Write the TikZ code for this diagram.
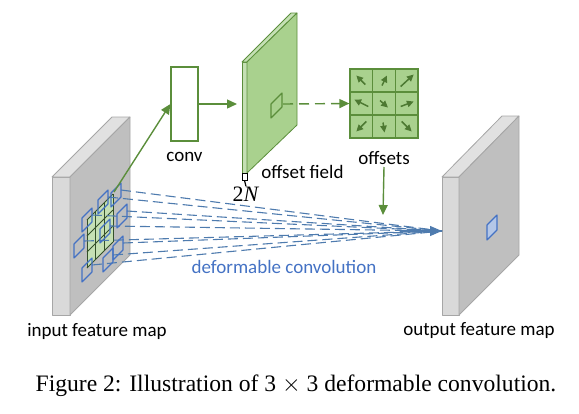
\documentclass[tikz,border=0pt]{standalone}
\usepackage{fontspec}
\setmainfont{Liberation Serif}
\newfontfamily\labelfont{Carlito}
\usetikzlibrary{arrows.meta,positioning}
\definecolor{mapface}{HTML}{BFBFBF}
\definecolor{mapside}{HTML}{D9D9D9}
\definecolor{mapedge}{HTML}{A6A6A6}
\definecolor{offface}{HTML}{A9D18E}
\definecolor{offside}{HTML}{C5E0B4}
\definecolor{linegreen}{HTML}{5B8E3B}
\definecolor{gridline}{HTML}{34502A}
\definecolor{sampblue}{HTML}{4472C4}
\definecolor{dashblue}{HTML}{4E7BAE}
\definecolor{outfill}{HTML}{B4C7E7}

\begin{document}
\begin{tikzpicture}[x=0.5pt, y=-0.5pt,
    lbl/.style={font=\labelfont\fontsize{9.5}{11}\selectfont, inner sep=0pt},
    slabedge/.style={draw=mapedge, line width=0.4pt, line join=round},
    greenedge/.style={draw=linegreen, line width=0.4pt, line join=round},
    sample/.style={draw=sampblue, line width=0.55pt, line join=round},
    dashline/.style={draw=dashblue, line width=0.55pt, dash pattern=on 5pt off 2.5pt},
    garrow/.style={draw=linegreen, line width=0.7pt, -{Triangle[length=5pt, width=4.5pt]}},
    cellarrow/.style={draw=linegreen!85!black, line width=0.75pt, -{Triangle[length=3.4pt, width=3.2pt]}}
]
\useasboundingbox (0,0) rectangle (579,413);

% input feature map
\filldraw[slabedge, fill=mapside] (52,177) -- (70,177) -- (70,315) -- (52,315) -- cycle;
\filldraw[slabedge, fill=mapside!80!white] (52,177) -- (112,117) -- (130,117) -- (70,177) -- cycle;
\filldraw[slabedge, fill=mapface] (70,177) -- (130,117) -- (130,255) -- (70,315) -- cycle;

% regular 3x3 grid on the input
\fill[offside] (87,268) -- (87,220) -- (113,194) -- (113,242) -- cycle;
\foreach \i in {0,1,2,3}
    \draw[gridline, line width=0.5pt] (87+8.667*\i,268-8.667*\i) -- ++(0,-48);
\foreach \j in {0,1,2,3}
    \draw[gridline, line width=0.5pt] (87,268-16*\j) -- ++(26,-26);
\coordinate (gridtop) at (114,192);

% output feature map
\filldraw[slabedge, fill=mapside] (442,177) -- (459,177) -- (459,315) -- (442,315) -- cycle;
\filldraw[slabedge, fill=mapside!80!white] (442,177) -- (502,116) -- (519,116) -- (459,177) -- cycle;
\filldraw[slabedge, fill=mapface] (459,177) -- (519,116) -- (519,255) -- (459,315) -- cycle;
\filldraw[sample, fill=outfill] (487,240) -- (487,225) -- (497,215) -- (497,230) -- cycle;
\coordinate (target) at (442,231);

% dashed lines from the sampling locations
\foreach \x/\y in {111/207, 98/214, 117/228, 82/232, 100/243, 74/258, 113/260, 103/272, 82/282}
    \draw[dashline] (\x+10,\y-17) -- (target);
\draw[dashblue, line width=0.55pt, -{Triangle[length=6pt, width=5pt]}] (400,231) -- (target);

% deformed sampling locations
\foreach \x/\y in {111/207, 98/214, 117/228, 82/232, 100/243, 74/258, 113/260, 103/272, 82/282}
    \draw[sample] (\x,\y) -- ++(0,-14) -- ++(10,-10) -- ++(0,14) -- cycle;

% conv
\node[draw=linegreen, line width=0.6pt, fill=white, minimum width=13.5pt, minimum height=37pt, inner sep=0pt] (conv) at (184.5,104) {};
\node[lbl, below=5pt of conv] (convlbl) {conv};

% offset field
\filldraw[greenedge, fill=offside] (242,62) -- (247,62) -- (247,173) -- (242,173) -- cycle;
\filldraw[greenedge, fill=offside] (242,62) -- (291,13) -- (297,13) -- (247,62) -- cycle;
\filldraw[greenedge, fill=offface] (247,62) -- (297,13) -- (297,125) -- (247,173) -- cycle;
\draw[greenedge, line width=0.55pt] (271,118) -- (271,104) -- (282,93) -- (282,107) -- cycle;
\coordinate (fieldin) at (237,104);
\coordinate (fieldsq) at (283,104);
\node[draw=black, fill=white, line width=0.4pt, minimum width=2.5pt, minimum height=3.5pt, inner sep=0pt] (chan) at (244.5,176.5) {};
\node[inner sep=0pt, font=\fontsize{11}{13}\selectfont] (chanlbl) at (246,194) {2\textit{N}};
\draw[black, line width=0.6pt] (chan.south) -- (chanlbl.north);
\node[lbl, anchor=west] (fieldlbl) at (261,172) {offset field};

% offsets
\node[draw=linegreen, line width=0.6pt, fill=offface, minimum width=34pt, minimum height=34.5pt, inner sep=0pt] (offs) at (384,103.5) {};
\foreach \i in {1,2} {
    \draw[linegreen, line width=0.6pt] (350+22.667*\i,69) -- ++(0,69);
    \draw[linegreen, line width=0.6pt] (350,69+23*\i) -- ++(68,0);
}
\foreach \cx/\cy/\ax/\ay/\bx/\by in {
    361.3/80.5/4/4/-5/-5, 384/80.5/-2/5/3/-5, 406.7/80.5/-6/6/7/-6,
    361.3/103.5/7/3/-7/-4, 384/103.5/-4/-3/4/4, 406.7/103.5/-6/3/7/-2,
    361.3/126.5/5/-5/-5/5, 384/126.5/-1/-4/0.5/6, 406.7/126.5/-5/-5/5/5}
    \draw[cellarrow] (\cx+\ax,\cy+\ay) -- (\cx+\bx,\cy+\by);
\node[lbl, below=6pt of offs] (offslbl) {offsets};
\coordinate (down) at (383,215);

% connectors
\draw[garrow] (gridtop) -- (conv.west);
\draw[garrow] (conv.east) -- (fieldin);
\draw[garrow, dash pattern=on 5pt off 3pt] (fieldsq) -- (offs.west);
\draw[garrow] (offslbl.south |- 0,167) -- (down);

% labels
\node[lbl, text=sampblue] (deflbl) at (284,267) {deformable convolution};
\node[lbl] (inlbl) at (97,331) {input feature map};
\node[lbl] (outlbl) at (479,331) {output feature map};
\node[inner sep=0pt, font=\fontsize{11.8}{14}\selectfont] (caption) at (296,386) {Figure 2: Illustration of 3 $\times$ 3 deformable convolution.};
\end{tikzpicture}
\end{document}
